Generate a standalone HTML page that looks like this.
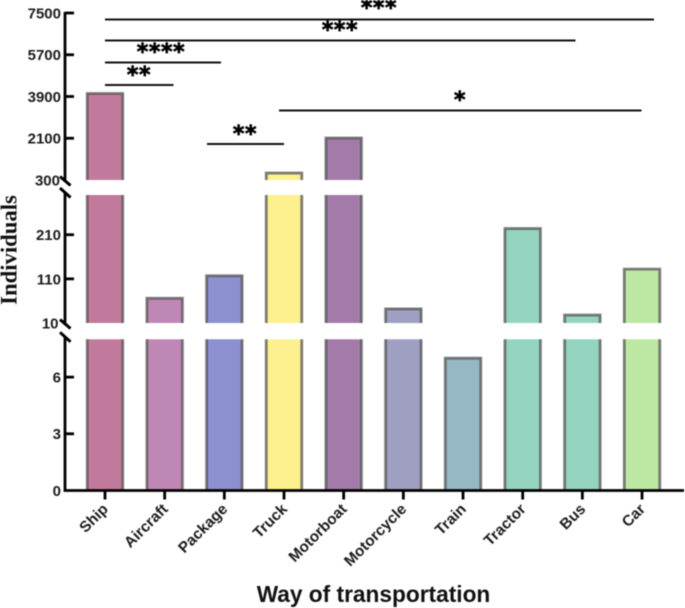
<!DOCTYPE html>
<html lang="en">
<head>
<meta charset="utf-8">
<title>Individuals by way of transportation</title>
<style>
  html, body { margin: 0; padding: 0; background: #fff; }
  body { width: 685px; height: 608px; overflow: hidden; }
  svg { display: block; filter: blur(0.5px); }
  text { font-family: "Liberation Sans", sans-serif; font-weight: bold; fill: #1c1c1c; }
</style>
</head>
<body>
<svg id="chart" xmlns="http://www.w3.org/2000/svg" width="685" height="608" viewBox="0 0 685 608">
  <rect width="685" height="608" fill="#fff"/>
  <g id="bars"></g>
  <g id="axes"></g>
  <g id="sig"></g>
  <text transform="translate(16.5,250) rotate(-90)" text-anchor="middle" style="font-family:'Liberation Serif',serif;font-size:22.7px;fill:#111">Individuals</text>
  <text x="373.5" y="602" text-anchor="middle" style="font-size:22.7px;fill:#111">Way of transportation</text>
</svg>
<script>
const categories = ["Ship", "Aircraft", "Package", "Truck", "Motorboat", "Motorcycle", "Train", "Tractor", "Bus", "Car"];
const values = [4030, 66, 117, 600, 2110, 42, 7, 224, 28, 132];
const colors = ["#c27a9c", "#bf87b5", "#8c90cf", "#fdf08f", "#a37ba8", "#9f9fc2", "#95b8c4", "#93d3bf", "#93d3bf", "#bce8a4"];
const lowTicks = [0, 3, 6];
const midTicks = [110, 210];
const topTicks = [2100, 3900, 5700, 7500];
const breakLabels = [10, 300];
const sigFrom = ["Ship", "Ship", "Ship", "Ship", "Package", "Truck"];
const sigStars = ["***", "***", "****", "**", "**", "*"];

const NS = "http://www.w3.org/2000/svg";
const barsG = document.getElementById("bars");
const axesG = document.getElementById("axes");
const sigG = document.getElementById("sig");

/* Axis functions: three-segment broken y axis */
const segments = [
  { min: 0, max: 8, y0: 490.5, y1: 339.3 },
  { min: 10, max: 300, y0: 323, y1: 195 },
  { min: 300, max: 7500, y0: 180, y1: 13 }
];
function segY(seg, v) {
  return seg.y0 + (v - seg.min) / (seg.max - seg.min) * (seg.y1 - seg.y0);
}
function yScale(v) {
  if (v <= 8) return segY(segments[0], v);
  if (v < 300) return segY(segments[1], Math.max(v, 10));
  return segY(segments[2], v);
}
function xScale(i) { return 105 + i * 59.67; }

function add(parent, tag, attrs) {
  const el = document.createElementNS(NS, tag);
  for (const k in attrs) el.setAttribute(k, attrs[k]);
  parent.appendChild(el);
  return el;
}

/* Bars */
const BAR_W = 35.5;
categories.forEach(function (name, i) {
  const cx = xScale(i);
  const g = add(barsG, "g", {});
  
  
  segments.forEach(function (seg) {
    const v = values[i];
    if (v <= seg.min) return;
    const capped = v < seg.max;
    const yTop = capped ? segY(seg, v) : seg.y1;
    const yBot = seg.y0;
    const fill = add(g, "rect", { x: cx - BAR_W / 2, y: yTop, width: BAR_W, height: yBot - yTop, fill: colors[i] });
    
    
    const d = capped
      ? "M" + (cx - BAR_W / 2) + " " + yBot + "V" + yTop + "H" + (cx + BAR_W / 2) + "V" + yBot
      : "M" + (cx - BAR_W / 2) + " " + yBot + "V" + yTop + "M" + (cx + BAR_W / 2) + " " + yTop + "V" + yBot;
    const edge = add(g, "path", { d: d, fill: "none", stroke: "#4d4d4d", "stroke-opacity": "0.72", "stroke-width": "2.8" });
    
    
  });
});

/* Axes */
const AX = 65;
function axisLine(x1, y1, x2, y2, w, name) {
  const l = add(axesG, "line", { x1: x1, y1: y1, x2: x2, y2: y2, stroke: "#000", "stroke-width": w });
  
  
}
function tickLabel(v) {
  const t = add(axesG, "text", { x: v === 300 ? 60 : (v === 10 ? 58.5 : 61), y: yScale(v) + 5.4, "text-anchor": "end", "font-size": "15px" });
  t.textContent = String(v);
  
  
}
axisLine(AX, 12, AX, 181, 2.8, 'y-axis-top-segment');
axisLine(AX, 193, AX, 325, 2.8, 'y-axis-middle-segment');
axisLine(AX, 337, AX, 491.5, 2.8, 'y-axis-bottom-segment');
axisLine(63.8, 490.5, 684, 490.5, 2.8, 'x-axis-line');
lowTicks.concat(midTicks, topTicks).forEach(function (v) {
  if (v !== 0) axisLine(AX, yScale(v), 74, yScale(v), 2.8, 'y-tick');
  tickLabel(v);
});
breakLabels.forEach(function (v) { tickLabel(v); });
segments.slice(0, 2).forEach(function (seg) {
  const top = seg.y1;
  const gapTop = segments[segments.indexOf(seg) + 1].y0;
  axisLine(60, gapTop - 3.5, 70.5, gapTop + 5.5, 3, 'axis-break-mark-upper');
  axisLine(60, top - 7, 70.5, top + 2.5, 3, 'axis-break-mark-lower');
});
categories.forEach(function (name, i) {
  const cx = xScale(i);
  axisLine(cx, 490.5, cx, 499.5, 2.8, 'x-tick');
  const t = add(axesG, "text", { transform: "translate(" + (cx + 4) + ",510) rotate(-45)", "text-anchor": "end", "font-size": "15.3px" });
  t.textContent = name;
  
  
});

/* Significance brackets: layout of annotation lines in chart pixels */
const sigLayout = [
  [105, 654, 19.5, 379, 11],
  [105, 575.5, 40.5, 340, 33],
  [105, 221, 62.5, 161, 55],
  [105, 173.5, 85, 139, 78],
  [207, 284, 144, 245, 137],
  [279, 641.5, 110.5, 460, 103]
];
sigStars.forEach(function (stars, i) {
  const s = sigLayout[i];
  const l = add(sigG, "line", { x1: s[0], y1: s[2], x2: s[1], y2: s[2], stroke: "#111", "stroke-width": "2" });
  
  
  const t = add(sigG, "text", { x: s[3], y: s[4] + 4, "text-anchor": "middle", "font-size": "22px", "letter-spacing": "0.6", stroke: "#000", "stroke-width": "0.7" });
  t.setAttribute('style', "font-family:'DejaVu Sans',sans-serif;fill:#000");
  t.textContent = stars;
  
  
});
</script>
</body>
</html>
